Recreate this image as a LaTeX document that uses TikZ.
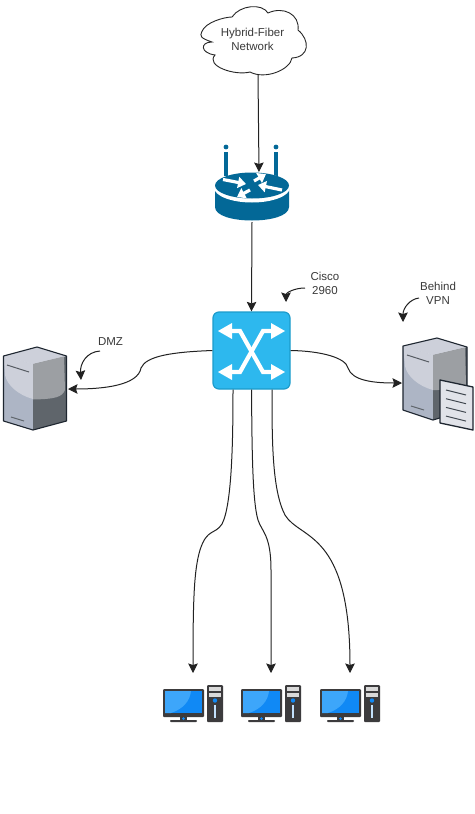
\documentclass[tikz,border=0pt]{standalone}
\usepackage{fontspec}
\setmainfont{Liberation Sans}
\usetikzlibrary{arrows.meta}
\definecolor{ciscoblue}{HTML}{036897}
\definecolor{switchblue}{HTML}{2DB8EE}
\definecolor{switchedge}{HTML}{1C9CCC}
\definecolor{txt}{HTML}{3A3A3A}
\definecolor{lnk}{HTML}{222222}
\definecolor{srvdark}{HTML}{1E2630}
\definecolor{srvtop}{HTML}{CDD0DA}
\definecolor{srvfront}{HTML}{ADB5C5}
\definecolor{srvside}{HTML}{9C9FA3}
\definecolor{srvlow}{HTML}{5F656B}
\definecolor{pcframe}{HTML}{3C3B3D}
\definecolor{pcblue}{HTML}{1089F5}
\definecolor{pcsheen}{HTML}{3DA6FA}
\tikzset{
  x=1pt,y=-1pt,
  link/.style={draw=lnk,line width=1pt,-{Stealth[length=9.5pt,width=9.5pt,inset=1.5pt]}},
  lab/.style={text=txt,font=\fontsize{11.5}{14}\selectfont,align=center,inner sep=0pt},
  box/.style={inner sep=0pt,minimum width=#1},
  cloudline/.style={draw=black!85,line width=0.9pt,fill=white},
  radial/.style={white,line width=3.2pt,-{Triangle[length=8pt,width=11pt]}},
  pcunit/.pic={
    \fill[pcframe,rounded corners=1pt] (0,4) rectangle (41,32);
    \fill[pcblue] (2,6) rectangle (39,28);
    \fill[pcsheen] (2,6) -- (28,6) .. controls (27,16) and (20,24) .. (8,28) -- (2,28) -- cycle;
    \fill[pcframe] (17,32) rectangle (24,35);
    \fill[pcframe,rounded corners=0.8pt] (7,35) rectangle (34,37);
    \fill[pcblue] (20.5,33.5) circle (1.5);
    \fill[pcframe,rounded corners=1pt] (44,0) rectangle (60,37);
    \fill[white!85!black] (46,2) rectangle (58,6);
    \fill[white!85!black] (46,8) rectangle (58,12);
    \fill[pcblue] (52,15.5) circle (2.2);
    \fill[white!75!pcblue] (50.8,20) rectangle (53.2,33);
  }
}
\begin{document}
\begin{tikzpicture}
\useasboundingbox (0,0) rectangle (474,814);
\fill[white] (0,0) rectangle (474,814);

% cloud
\path[cloudline] (201.7,32)
  .. controls (205,22) and (225,17) .. (232,17)
  .. controls (240,5) and (262,3) .. (268,13)
  .. controls (283,6) and (300,14) .. (298,30)
  .. controls (310,40) and (310,57) .. (292,58)
  .. controls (290,70) and (265,80) .. (250,72)
  .. controls (235,76) and (205,66) .. (215,55)
  .. controls (200,53) and (200,42) .. (212,42)
  .. controls (200,38) and (200,36) .. (201.7,32) -- cycle;
\node[lab] (cloud) at (252.5,39.5) {Hybrid-Fiber\\Network};
\coordinate (cloudout) at (258,75);

% router
\node[box=75pt,minimum height=76pt] (router) at (252,184) {};
\fill[ciscoblue] (226,147) circle (2.4);
\fill[ciscoblue] (276,147) circle (2.4);
\fill[ciscoblue] (224,152) rectangle (228,176);
\fill[ciscoblue] (274,152) rectangle (278,176);
\fill[ciscoblue] (215,188) -- (289,188) -- (289,207)
  .. controls (289,225) and (215,225) .. (215,207) -- cycle;
\fill[white] (252,187.5) ellipse (38 and 15);
\fill[ciscoblue] (252,185.5) ellipse (37 and 13);
\draw[radial] (223,179.5) -- (246,184);
\draw[radial] (254,181) -- (266,174);
\draw[radial] (282,190) -- (258,185);
\draw[radial] (250,190) -- (237,197);
\coordinate (routerin) at (259,172);

% switch
\node[box=77pt,minimum height=77pt,rounded corners=6pt,fill=switchblue,draw=switchedge,line width=1.2pt] (switch) at (251.5,350.5) {};
\draw[white,line width=4.2pt] (230,331) -- (240,331) -- (263,372) -- (273,372);
\draw[white,line width=4.2pt] (230,372) -- (240,372) -- (263,331) -- (273,331);
\fill[white] (218,331) -- (232,323) -- (232,339) -- cycle;
\fill[white] (218,372) -- (232,364) -- (232,380) -- cycle;
\fill[white] (285,331) -- (271,323) -- (271,339) -- cycle;
\fill[white] (285,372) -- (271,364) -- (271,380) -- cycle;

% left server
\node[box=64pt,minimum height=83pt] (dmz) at (35,388.5) {};
\fill[srvfront] (3.5,356) -- (33,364) -- (33,430) -- (3.5,421) -- cycle;
\fill[srvlow] (33,364) -- (66.5,356) -- (66.5,421) -- (33,430) -- cycle;
\fill[srvtop] (3.5,356) -- (37,347) -- (66.5,356) -- (33,364) -- cycle;
\fill[srvtop] (3.5,356) -- (33,364) -- (33,399) .. controls (18,395) and (7,385) .. (5,375) -- cycle;
\fill[srvside] (33,364) -- (64,356.5) -- (65,390) .. controls (62,397) and (56,399) .. (33,399.5) -- cycle;
\draw[srvdark,line width=1.1pt,line join=round] (3.5,356) -- (37,347) -- (66.5,356) -- (66.5,421) -- (33,430) -- (3.5,421) -- cycle;
\draw[srvfront!50!black,line width=1pt] (7,365) -- (29,372);
\draw[srvlow,line width=1pt] (11,417) -- (24,421);
\coordinate (dmzin) at (68,389);

% right server
\node[box=70pt,minimum height=94pt] (vpn) at (438,385) {};
\fill[srvfront] (403,346) -- (433,355) -- (433,420) -- (403,410) -- cycle;
\fill[srvlow] (433,355) -- (467,347) -- (467,410) -- (433,420) -- cycle;
\fill[srvtop] (403,346) -- (437,338) -- (467,347) -- (433,355) -- cycle;
\fill[srvtop] (403,346) -- (433,355) -- (433,390) .. controls (418,386) and (407,376) .. (405,366) -- cycle;
\fill[srvside] (433,355) -- (465,347.5) -- (466,385) .. controls (460,390) and (450,390) .. (433,390) -- cycle;
\draw[srvdark,line width=1.1pt,line join=round] (403,346) -- (437,338) -- (467,347) -- (467,410) -- (433,420) -- (403,410) -- cycle;
\draw[srvfront!50!black,line width=1pt] (407,355) -- (429,362);
\draw[srvlow,line width=1pt] (411,406) -- (424,410);
\path[fill=srvtop!60!white,draw=srvdark,line width=1.3pt,line join=round] (440,380) -- (473,387) -- (473,430) -- (440,423) -- cycle;
\foreach \k in {0,1,2,3}
  \draw[srvdark!85,line width=1pt] (446,{390+8.7*\k}) -- (466,{395+8.7*\k});
\coordinate (vpnin) at (402,383);

% computers
\node[box=60pt,minimum height=37pt] (pca) at (193,703.5) {};
\node[box=60pt,minimum height=37pt] (pcb) at (271,703.5) {};
\node[box=60pt,minimum height=37pt] (pcc) at (350,703.5) {};
\pic at (163,685) {pcunit};
\pic at (241,685) {pcunit};
\pic at (320,685) {pcunit};
\coordinate (pcain) at (193,673);
\coordinate (pcbin) at (271,673);
\coordinate (pccin) at (350,673);

% labels
\node[lab] (dmzlab) at (110.5,342) {DMZ};
\node[lab] (ciscolab) at (325,283) {Cisco\\2960};
\node[lab] (vpnlab) at (438,293) {Behind\\VPN};
\coordinate (dmzfrom) at (100,351);
\coordinate (dmzto) at (81,380);
\coordinate (ciscofrom) at (305,288);
\coordinate (ciscoto) at (286,302);
\coordinate (vpnfrom) at (419,298);
\coordinate (vpnto) at (403,322);

% connectors
\draw[link] (cloudout) -- (routerin);
\draw[link] (router.south) -- (switch.north);
\draw[link] (switch.west) .. controls (172,352) and (146,356) .. (141,368)
  .. controls (138,385) and (105,389) .. (dmzin);
\draw[link] (switch.east) .. controls (322,351) and (346,358) .. (348,368)
  .. controls (352,381) and (375,383) .. (vpnin);
\draw[link] ([xshift=-18.5pt]switch.south) .. controls (233,440) and (232,505) .. (222,524)
  .. controls (215,535) and (207,528) .. (200,550)
  .. controls (194,570) and (193,600) .. (pcain);
\draw[link] (switch.south) .. controls (252,440) and (252,500) .. (258,520)
  .. controls (262,532) and (271,535) .. (271,570) -- (pcbin);
\draw[link] ([xshift=20.5pt]switch.south) .. controls (272,440) and (272,490) .. (285,515)
  .. controls (300,540) and (350,530) .. (pccin);
\draw[link] (dmzfrom) .. controls (86,352) and (80,364) .. (dmzto);
\draw[link] (ciscofrom) .. controls (294,288) and (286,293) .. (ciscoto);
\draw[link] (vpnfrom) .. controls (410,299) and (403,308) .. (vpnto);
\end{tikzpicture}
\end{document}
